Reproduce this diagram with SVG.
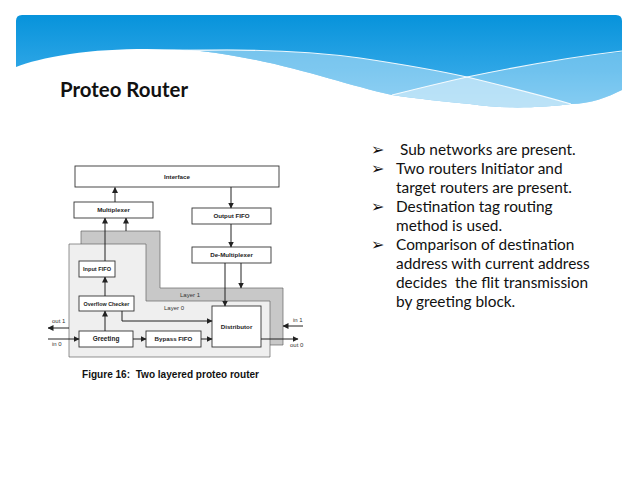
<svg xmlns="http://www.w3.org/2000/svg" width="638" height="478" viewBox="0 0 638 478">
<defs>
<linearGradient id="blueG" x1="0" y1="0" x2="0" y2="1" gradientUnits="objectBoundingBox">
<stop offset="0" stop-color="#0793db"/>
<stop offset="0.6" stop-color="#2ea6e6"/>
<stop offset="1" stop-color="#58b9ee"/>
</linearGradient>
<marker id="ah" markerUnits="userSpaceOnUse" markerWidth="6" markerHeight="6" refX="5.5" refY="3" orient="auto">
<path d="M0,0 L6,3 L0,6 Z" fill="#222"/>
</marker>
<style>
.box{fill:#fff;stroke:#333;stroke-width:0.9}
.lbl{font-family:"Liberation Sans",Arial,sans-serif;font-size:6.2px;font-weight:bold;fill:#222;text-anchor:middle}
.sm{font-family:"Liberation Sans",Arial,sans-serif;font-size:6px;fill:#333}
.con{fill:none;stroke:#222;stroke-width:1;marker-end:url(#ah)}
.bul{font-family:"DejaVu Sans",sans-serif;font-size:16px;font-weight:bold;fill:#111}
.txt{font-family:Lato,"Noto Sans",sans-serif;font-size:15.4px;fill:#111}
</style>
</defs>
<rect width="638" height="478" fill="#fff"/>
<g id="header">
<path d="M16,21 Q16,15 22,15 L616,15 Q622,15 622,21 L622,90 C608,97 590,104 571,104 C540,108 500,109 470,104 C440,101 420,99 392,95 C340,84 280,60 200,51 C160,48 110,48 70,54 C45,58 28,62 16,67 Z" fill="url(#blueG)"/>
<path d="M160,49 C230,49 300,50 360,58 C400,64 440,71 467,77 C500,85 540,95 571,104 C540,108 500,109 470,104 C440,101 420,99 392,95 C340,84 280,60 200,51 Z" fill="#bfe4f8" opacity="0.55"/>
<path d="M392,95 C420,88 445,82 467,77 C520,66 580,56 622,52 L622,90 C608,97 590,104 571,104 C540,108 500,109 470,104 C440,101 420,99 392,95 Z" fill="#bfe4f8" opacity="0.45"/>
<path d="M467,77 C500,85 540,95 571,104 C540,108 500,109 470,104 C440,101 420,99 392,95 C420,88 445,82 467,77 Z" fill="#ffffff" opacity="0.25"/>
<path d="M150,52 C230,48 300,50 360,58 C400,64 440,71 467,77 C500,85 540,95 571,104" fill="none" stroke="#fff" stroke-width="1.1" opacity="0.9"/>
<path d="M392,95 C420,88 445,82 467,77 C520,66 580,56 622,51" fill="none" stroke="#fff" stroke-width="1.1" opacity="0.9"/>
</g>
<text x="60" y="97" font-family="Lato,'Noto Sans',sans-serif" font-size="20" font-weight="bold" fill="#111" textLength="128" lengthAdjust="spacingAndGlyphs">Proteo Router</text>
<g id="bullets">
<text class="bul" x="371" y="155">➢</text>
<text class="txt" x="400" y="155">Sub networks are present.</text>
<text class="bul" x="371" y="174">➢</text>
<text class="txt" x="396" y="174">Two routers Initiator and</text>
<text class="txt" x="396" y="193">target routers are present.</text>
<text class="bul" x="371" y="212">➢</text>
<text class="txt" x="396" y="212">Destination tag routing</text>
<text class="txt" x="396" y="231">method is used.</text>
<text class="bul" x="371" y="250">➢</text>
<text class="txt" x="396" y="250">Comparison of destination</text>
<text class="txt" x="396" y="269">address with current address</text>
<text class="txt" x="396" y="288" xml:space="preserve">decides  the flit transmission</text>
<text class="txt" x="396" y="307">by greeting block.</text>
</g>
<g id="layer1">
<path d="M81,231 L160,231 L160,288 L283,288 L283,345 L81,345 Z" fill="#c8c8c8" stroke="#666" stroke-width="0.7"/>
<text class="sm" x="180" y="296.5">Layer 1</text>
</g>
<g id="layer0">
<path d="M69,244 L146,244 L146,301 L270,301 L270,357 L69,357 Z" fill="#efefef" stroke="#666" stroke-width="0.7"/>
<text class="sm" x="164" y="310">Layer 0</text>
</g>
<g id="interface"><rect class="box" x="75" y="166" width="204" height="21"/><text class="lbl" x="177" y="178.5">Interface</text></g>
<g id="multiplexer"><rect class="box" x="74" y="202" width="79" height="16"/><text class="lbl" x="113.5" y="212">Multiplexer</text></g>
<g id="outputfifo"><rect class="box" x="192" y="208" width="79" height="16"/><text class="lbl" x="231.5" y="218">Output FIFO</text></g>
<g id="demux"><rect class="box" x="192" y="247" width="79" height="16"/><text class="lbl" x="231.5" y="257">De-Multiplexer</text></g>
<g id="inputfifo"><rect class="box" x="79" y="261" width="36" height="16"/><text class="lbl" x="97" y="271" style="font-size:5.6px">Input FIFO</text></g>
<g id="overflow"><rect class="box" x="79" y="296" width="55" height="15"/><text class="lbl" x="106.5" y="305.5" style="font-size:5.4px">Overflow Checker</text></g>
<g id="greeting"><rect class="box" x="79" y="331" width="54" height="16"/><text class="lbl" x="106" y="341.3" style="font-size:6.5px">Greeting</text></g>
<g id="bypass"><rect class="box" x="146" y="331" width="55" height="16"/><text class="lbl" x="173.5" y="341.3">Bypass FIFO</text></g>
<g id="distributor"><rect class="box" x="212" y="306" width="49" height="41"/><text class="lbl" x="236.5" y="328.5">Distributor</text></g>
<g id="ports">
<text class="sm" x="52" y="323">out 1</text>
<text class="sm" x="52" y="346">in 0</text>
<text class="sm" x="293" y="322">in 1</text>
<text class="sm" x="290" y="347">out 0</text>
</g>
<g id="connectors">
<path class="con" d="M115,202 L115,187.5"/>
<path class="con" d="M231,187 L231,208"/>
<path class="con" d="M231,224 L231,247"/>
<path class="con" d="M105,261 L105,218"/>
<path class="con" d="M126,231 L126,218"/>
<path class="con" d="M105,296 L105,277"/>
<path class="con" d="M105,331 L105,311"/>
<path class="con" d="M122,311 L122,321 L212,321"/>
<path class="con" d="M133,339 L146,339"/>
<path class="con" d="M201,339 L212,339"/>
<path class="con" d="M225,263 L225,306"/>
<path class="con" d="M241,263 L241,288"/>
<path class="con" d="M69,328 L48,328"/>
<path class="con" d="M48,339 L79,339"/>
<path class="con" d="M303,326 L283,326"/>
<path class="con" d="M261,339 L298,339"/>
</g>
<text x="82" y="377.5" xml:space="preserve" font-family="'Liberation Sans',Arial,sans-serif" font-size="10.5" font-weight="bold" fill="#111" textLength="177" lengthAdjust="spacingAndGlyphs">Figure 16:  Two layered proteo router</text>
</svg>
